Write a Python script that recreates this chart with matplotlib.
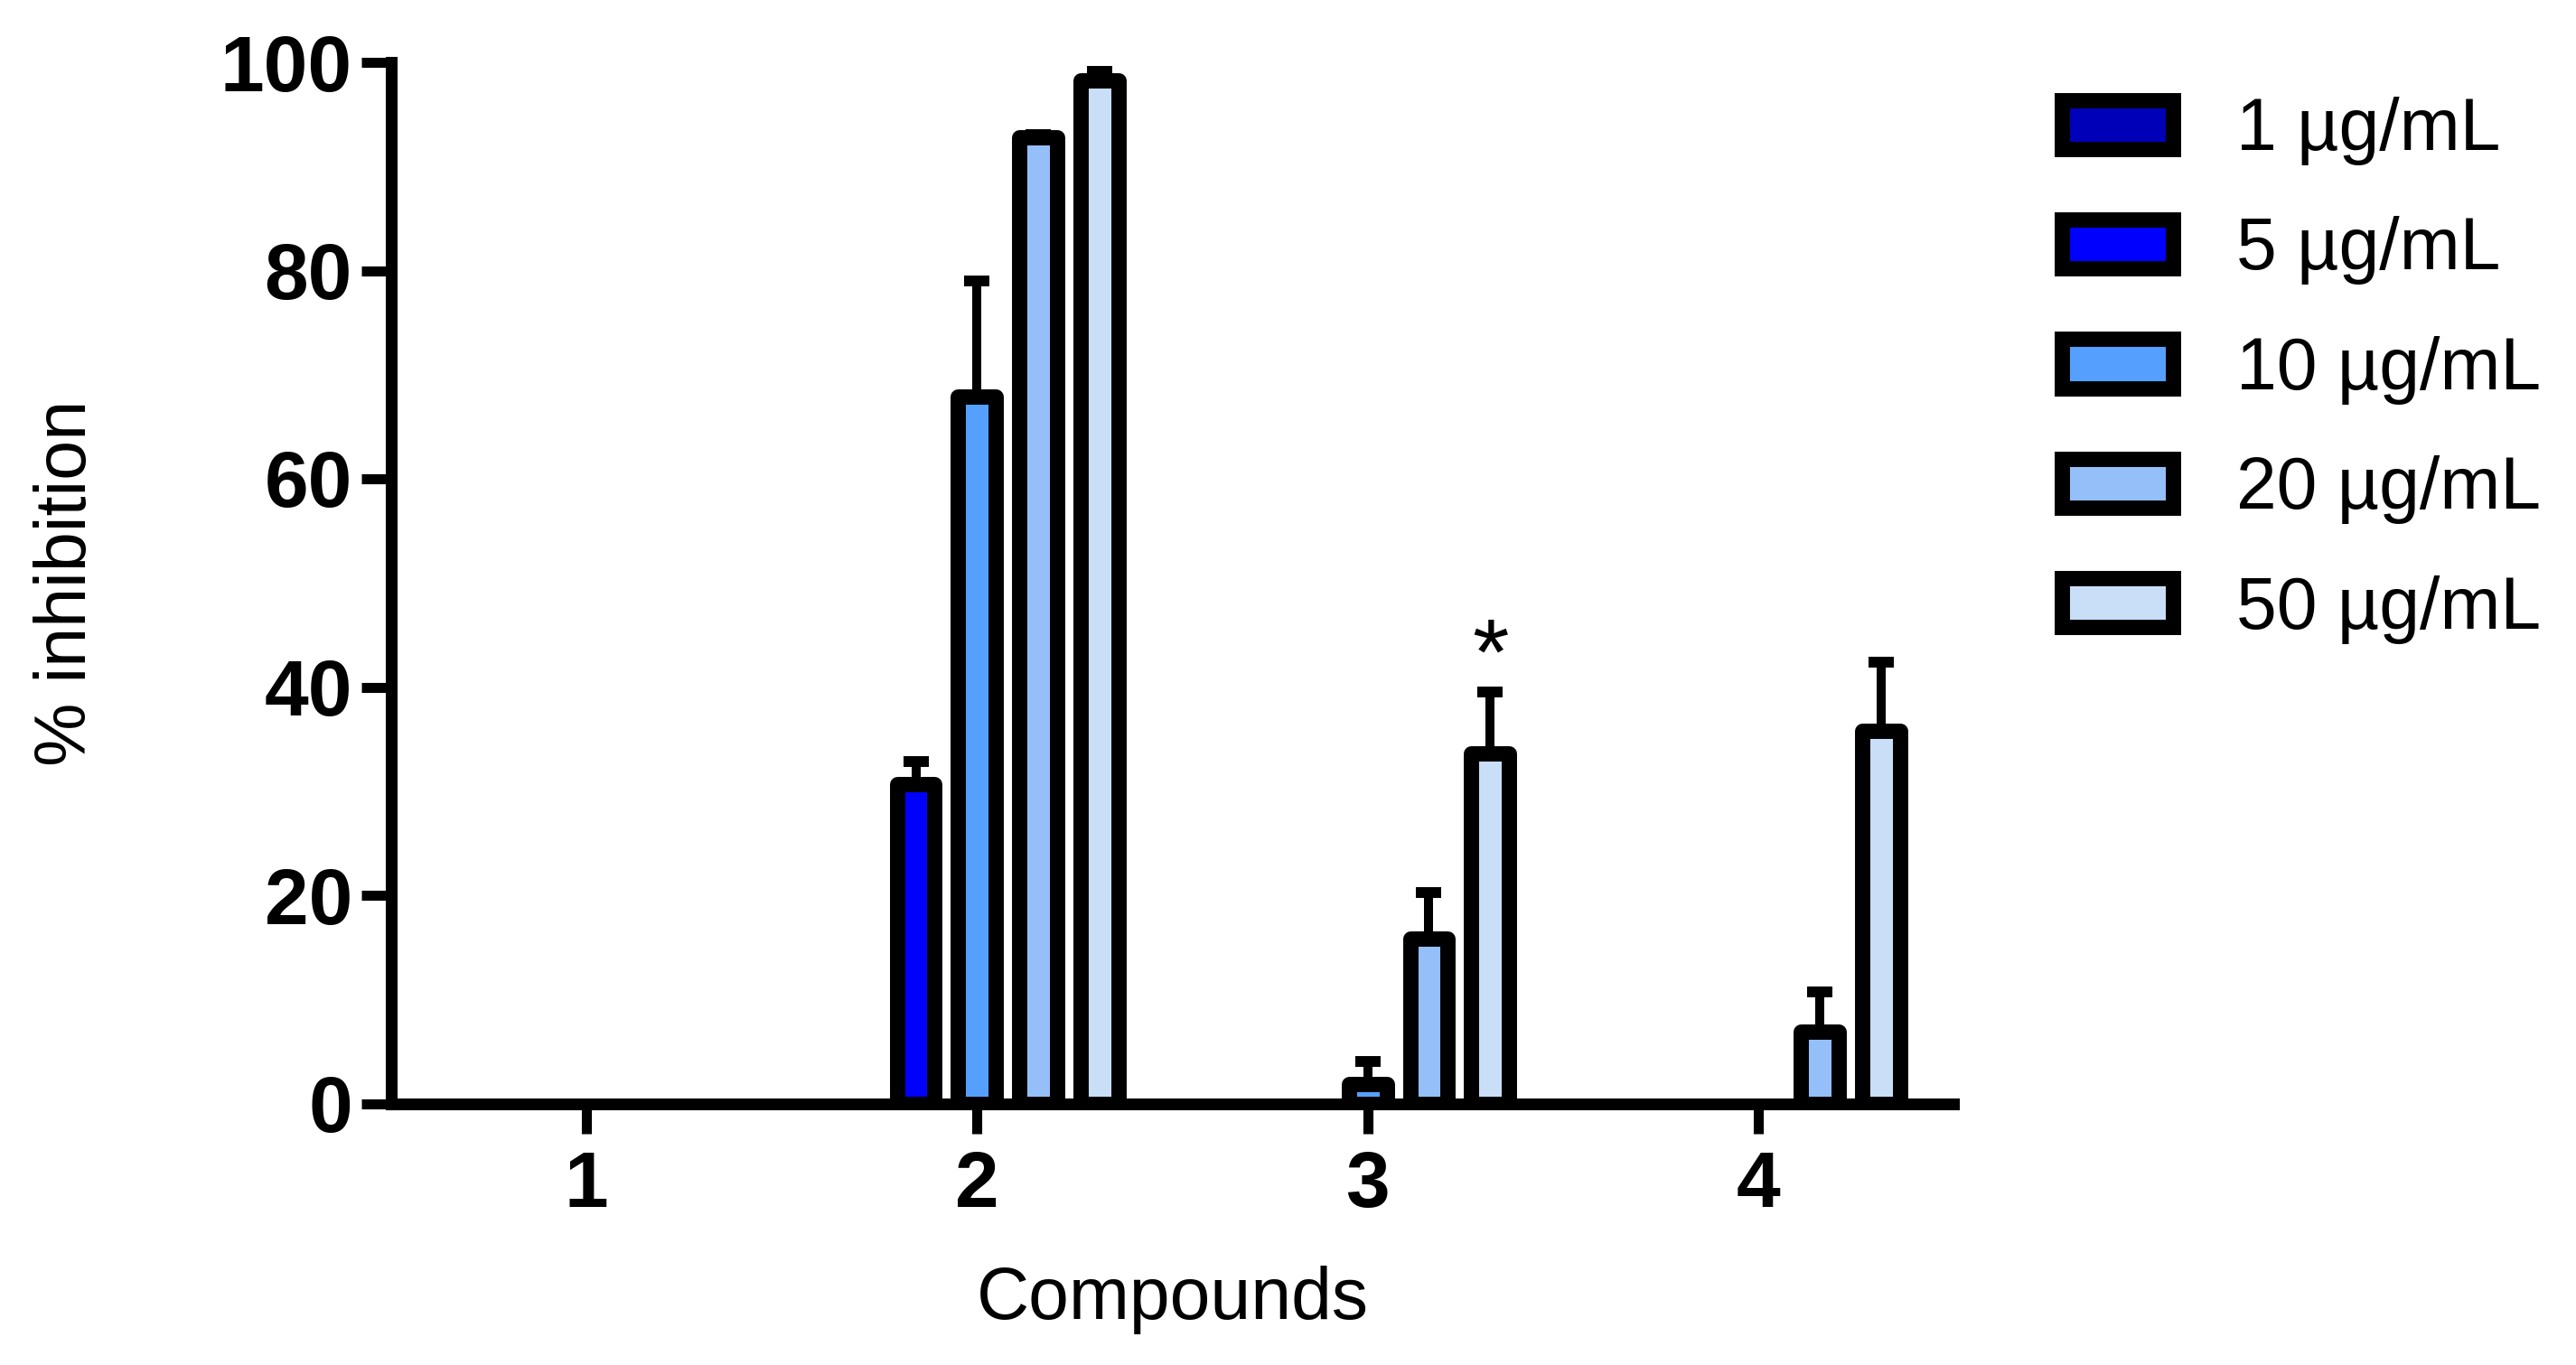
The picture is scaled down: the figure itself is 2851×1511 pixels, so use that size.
import numpy as np
import matplotlib
matplotlib.use("Agg")
import matplotlib.pyplot as plt

# ---- data ----
compounds = ["1", "2", "3", "4"]
series_labels = ["1 µg/mL", "5 µg/mL", "10 µg/mL", "20 µg/mL", "50 µg/mL"]
vals_1 = [0, 0, 0, 0]
vals_5 = [0, 30.7, 0, 0]
vals_10 = [0, 67.9, 1.9, 0]
vals_20 = [0, 92.8, 15.8, 6.9]
vals_50 = [0, 98.3, 33.6, 35.8]
err_1 = [0, 0, 0, 0]
err_5 = [0, 2.1, 0, 0]
err_10 = [0, 11.1, 2.1, 0]
err_20 = [0, 0.3, 4.5, 3.8]
err_50 = [0, 0.8, 5.9, 6.6]
yticks = [0, 20, 40, 60, 80, 100]
star_label = "*"
star_group = 2      # compound 3
star_series = 4     # 50 µg/mL
star_y = 40.3

colors = ["#0000B8", "#0000FF", "#55A0FF", "#94BFF8", "#C9DEF7"]

plt.rcParams['font.family'] = ['Liberation Sans', 'DejaVu Sans']

W, H = 2851, 1511
fig = plt.figure(figsize=(W / 100, H / 100), dpi=100)
ax = fig.add_axes([433 / W, 1 - 1221.5 / H, (2162 - 433) / W, (1221.5 - 69) / H])

x = np.arange(1, len(compounds) + 1)
step = 0.157
width = 0.097
all_vals = [vals_1, vals_5, vals_10, vals_20, vals_50]
all_errs = [err_1, err_5, err_10, err_20, err_50]

handles = []
for i, (v, e, c, lab) in enumerate(zip(all_vals, all_errs, colors, series_labels)):
    v = np.asarray(v, float)
    e = np.asarray(e, float)
    xpos = x + (i - 2) * step
    m = v > 0
    bc = ax.bar(xpos[m] if m.any() else [np.nan], v[m] if m.any() else [0],
                width=width, color=c, edgecolor="black", linewidth=12.2,
                joinstyle="round", zorder=3, label=lab)
    handles.append(bc)
    me = e > 0
    if me.any():
        ax.errorbar(xpos[me], v[me], yerr=[np.zeros(me.sum()), e[me]], fmt="none",
                    ecolor="black", elinewidth=7.2, capsize=10, capthick=8.6, zorder=2)

ax.text(x[star_group] + (star_series - 2) * step, star_y, star_label,
        ha="center", va="baseline", fontsize=75, zorder=5)

ax.set_xlim(0.5, 4.5)
ax.set_ylim(0, 100)
ax.set_xticks(x)
ax.set_xticklabels(compounds)
ax.set_yticks(yticks)
ax.set_yticklabels([str(t) for t in yticks])
for lbl in ax.get_xticklabels() + ax.get_yticklabels():
    lbl.set_fontweight("bold")
    lbl.set_fontsize(63)
ax.tick_params(axis="y", direction="out", length=24, width=8, pad=7)
ax.tick_params(axis="x", direction="out", length=24, width=8, pad=13)

for s in ["top", "right"]:
    ax.spines[s].set_visible(False)
for s in ["left", "bottom"]:
    ax.spines[s].set_linewidth(9.4)
    ax.spines[s].set_zorder(4)

ax.set_xlabel("Compounds", fontsize=58, va="baseline")
ax.xaxis.set_label_coords(0.5, (1221.5 - 1460) / (1221.5 - 69))
ax.set_ylabel("% inhibition", fontsize=57, va="baseline")
ax.yaxis.set_label_coords((95 - 433) / (2162 - 433), 0.5)

leg = fig.legend(handles=handles, labels=series_labels, loc="upper left",
                 bbox_to_anchor=(2282 / W, 1 - 107 / H), frameon=False,
                 fontsize=58, handlelength=1.53, handleheight=0.66,
                 handletextpad=0.86, labelspacing=0.70, borderpad=0,
                 borderaxespad=0)

fig.savefig("out.png", dpi=100)
